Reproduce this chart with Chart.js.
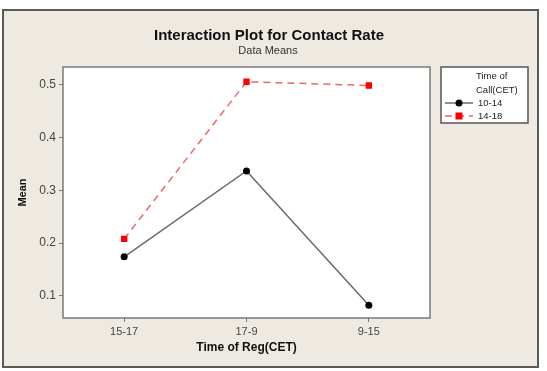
<!DOCTYPE html>
<html>
<head>
<meta charset="utf-8">
<script src="https://cdn.jsdelivr.net/npm/chart.js@4/dist/chart.umd.min.js"></script>
<style>
  html, body { margin: 0; padding: 0; background: #fff; }
  #wrap { width: 547px; height: 371px; }
</style>
</head>
<body>
<div id="wrap"><canvas id="graphique" width="547" height="371"></canvas></div>
<script>
// categories (x) and the two series
let categories = ["15-17", "17-9", "9-15"];
let appel1014 = [0.174, 0.337, 0.082];
let appel1418 = [0.208, 0.506, 0.499];
let yTicks = [0.1, 0.2, 0.3, 0.4, 0.5];

let police = "'Liberation Sans', Arial, sans-serif";

// fond, cadre, titre, legende
let decor = {
    id: "decor",
    beforeDraw(chart) {
        let ctx = chart.ctx;
        let a = chart.chartArea;
        ctx.save();
        ctx.fillStyle = "#fff";
        ctx.fillRect(0, 0, chart.width, chart.height);
        ctx.fillStyle = "#eeeae1";
        ctx.fillRect(3, 10, 535, 357);
        ctx.strokeStyle = "#5a5a5a";
        ctx.lineWidth = 2;
        ctx.strokeRect(3, 10, 535, 357);
        ctx.fillStyle = "#fff";
        ctx.fillRect(a.left, a.top, a.right - a.left, a.bottom - a.top);

        ctx.fillStyle = "#111";
        ctx.textAlign = "center";
        ctx.textBaseline = "middle";
        ctx.font = "bold 15px " + police;
        ctx.fillText("Interaction Plot for Contact Rate", 269, 36);
        ctx.font = "11px " + police;
        ctx.fillStyle = "#333";
        ctx.fillText("Data Means", 268, 51);
        ctx.restore();
    },
    beforeDatasetsDraw(chart) {
        let ctx = chart.ctx;
        let a = chart.chartArea;
        ctx.save();
        ctx.strokeStyle = "#7a7a7a";
        ctx.lineWidth = 1.5;
        ctx.strokeRect(a.left, a.top, a.right - a.left, a.bottom - a.top);
        ctx.restore();
    },
    afterDraw(chart) {
        let ctx = chart.ctx;
        ctx.save();
        ctx.fillStyle = "#fff";
        ctx.fillRect(441, 67, 87, 56);
        ctx.strokeStyle = "#555";
        ctx.lineWidth = 1.5;
        ctx.strokeRect(441, 67, 87, 56);
        ctx.fillStyle = "#222";
        ctx.font = "9.5px " + police;
        ctx.textAlign = "left";
        ctx.textBaseline = "middle";
        ctx.fillText("Time of", 476, 76);
        ctx.fillText("Call(CET)", 476, 90);
        let lignes = [{ y: 103 }, { y: 116 }];
        chart.data.datasets.forEach(function (ds, i) {
            let y = lignes[i].y;
            ctx.strokeStyle = ds.borderColor;
            ctx.lineWidth = 1.5;
            ctx.setLineDash(ds.borderDash || []);
            ctx.beginPath();
            ctx.moveTo(445, y);
            ctx.lineTo(473, y);
            ctx.stroke();
            ctx.setLineDash([]);
            ctx.fillStyle = ds.pointBackgroundColor;
            if (ds.pointStyle === "rect") {
                ctx.fillRect(455.5, y - 3.5, 7, 7);
            } else {
                ctx.beginPath();
                ctx.arc(459, y, 3.5, 0, Math.PI * 2);
                ctx.fill();
            }
            ctx.fillStyle = "#222";
            ctx.fillText(ds.label, 478, y);
        });
        ctx.restore();
    }
};

let ctx = document.getElementById("graphique").getContext("2d");
let chart = new Chart(ctx, {
    type: "line",
    data: {
        labels: categories,
        datasets: [
            {
                label: "10-14",
                data: appel1014,
                borderColor: "#6a6a6a",
                borderWidth: 1.5,
                pointStyle: "circle",
                pointRadius: 3.5,
                pointBackgroundColor: "#000",
                pointBorderColor: "#000",
                pointBorderWidth: 0,
                tension: 0
            },
            {
                label: "14-18",
                data: appel1418,
                borderColor: "#e86a6a",
                borderWidth: 1.5,
                borderDash: [7, 5],
                pointStyle: "rect",
                pointRadius: 4.5,
                pointBackgroundColor: "#ff0000",
                pointBorderColor: "#ff0000",
                pointBorderWidth: 0,
                tension: 0
            }
        ]
    },
    options: {
        responsive: false,
        animation: false,
        devicePixelRatio: 1,
        layout: { padding: { left: 0, top: 67, right: 117, bottom: 0 } },
        plugins: {
            legend: { display: false },
            title: { display: false },
            tooltip: { enabled: false }
        },
        scales: {
            x: {
                type: "category",
                offset: true,
                afterFit: function (s) { s.height = 53; },
                grid: { drawOnChartArea: false, drawTicks: true, tickLength: 4, color: "#777", offset: false },
                border: { display: false },
                ticks: { color: "#444", font: { family: police, size: 11 }, padding: 3, maxRotation: 0 },
                title: { display: true, text: "Time of Reg(CET)", color: "#111", font: { family: police, size: 12, weight: "bold" }, padding: { top: 1, bottom: 16 } }
            },
            y: {
                min: 0.058,
                max: 0.534,
                afterFit: function (s) { s.width = 63; },
                afterBuildTicks: function (s) { s.ticks = yTicks.map(function (v) { return { value: v }; }); },
                grid: { drawOnChartArea: false, drawTicks: true, tickLength: 4, color: "#777" },
                border: { display: false },
                ticks: { color: "#444", font: { family: police, size: 12 }, padding: 3, callback: function (v) { return v.toFixed(1); } },
                title: { display: true, text: "Mean", color: "#111", font: { family: police, size: 11, weight: "bold" }, padding: { top: 16 } }
            }
        }
    },
    plugins: [decor]
});
</script>
</body>
</html>
